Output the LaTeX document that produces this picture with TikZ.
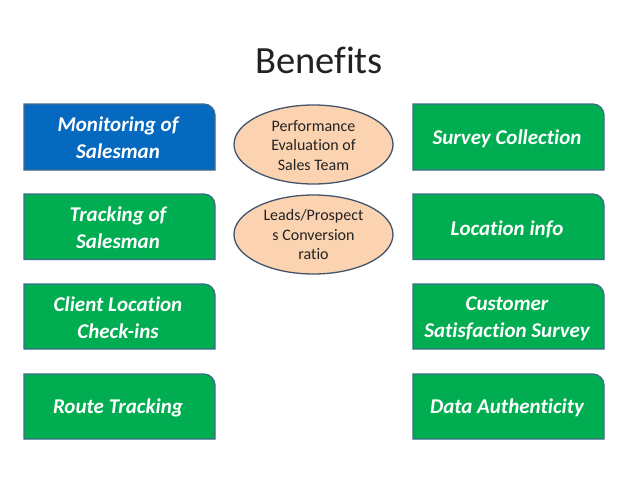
\documentclass[tikz,border=0pt]{standalone}
\usepackage{fontspec}
\setmainfont{Carlito}
\newfontfamily\plainlig[Ligatures=NoCommon]{Carlito}
\usetikzlibrary{shapes.geometric}
\definecolor{grn}{HTML}{00AD50}
\definecolor{blu}{HTML}{0569BF}
\definecolor{edgeblue}{HTML}{3E6A8C}
\definecolor{peach}{HTML}{FBD3B1}
\definecolor{ell}{HTML}{44546A}
\definecolor{ink}{HTML}{222222}
\tikzset{
  x=1pt,y=-1pt,
  boxlabel/.style={text=white,align=center,font=\plainlig\fontsize{21}{27}\selectfont\bfseries\itshape,inner sep=0pt},
  oval/.style={ellipse,draw=ell,line width=1.3pt,fill=peach,minimum width=159pt,minimum height=79pt,inner sep=0pt},
  ovallabel/.style={text=ink,align=center,font=\plainlig\fontsize{16}{19.5}\selectfont,inner sep=0pt},
  title/.style={text=ink,font=\plainlig\fontsize{38.5}{44}\selectfont,inner sep=0pt},
}
\newcommand{\snipbox}[5]{% x y w h colour
  \fill[#5,draw=edgeblue,line width=1.2pt]
    (#1,#2) -- ({#1+#3-11},#2) .. controls ({#1+#3-5},#2) and ({#1+#3},{#2+5}) .. ({#1+#3},{#2+11})
    -- ({#1+#3},{#2+#4}) -- (#1,{#2+#4}) -- cycle;
}
\begin{document}
\begin{tikzpicture}
\useasboundingbox (0,0) rectangle (638,479);
\fill[white] (0,0) rectangle (638,479);
\node[title] (t) at (319,60.5) {Benefits};
\snipbox{24}{104}{191}{66}{blu}
\node[boxlabel] (a) at (118,137.5) {Monitoring of\\Salesman};
\snipbox{24}{194}{191}{65.5}{grn}
\node[boxlabel] (b) at (118,227.5) {Tracking of\\Salesman};
\snipbox{24}{284}{191}{65}{grn}
\node[boxlabel] (c) at (118,317.5) {Client Location\\Check-ins};
\snipbox{24}{374}{191}{65}{grn}
\node[boxlabel] (d) at (118,408) {Route Tracking};
\snipbox{413}{104}{191}{66}{grn}
\node[boxlabel] (e) at (507,139) {Survey Collection};
\snipbox{413}{194}{191}{65.5}{grn}
\node[boxlabel] (f) at (507,229) {Location info};
\snipbox{413}{284}{191}{65}{grn}
\node[boxlabel] (g) at (507,319) {Customer\\Satisfaction Survey};
\snipbox{413}{374}{191}{65}{grn}
\node[boxlabel] (h) at (507,408) {Data Authenticity};
\node[oval] (p) at (313.5,144.5) {};
\node[ovallabel] at (313.5,145.5) {Performance\\Evaluation of\\Sales Team};
\node[oval] (q) at (313.5,234.5) {};
\node[ovallabel] at (313.5,235) {Leads/Prospect\\s Conversion\\ratio};
\end{tikzpicture}
\end{document}
